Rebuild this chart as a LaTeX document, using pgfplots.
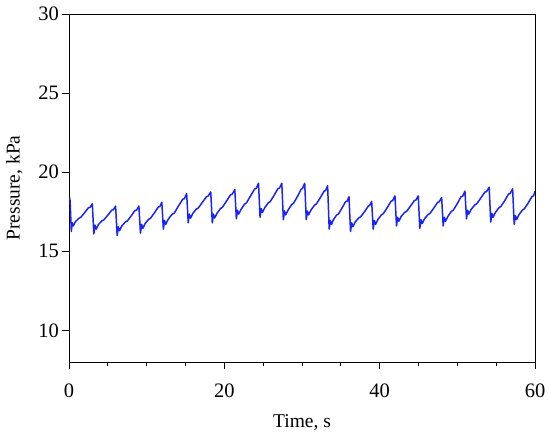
\documentclass[border=0pt]{standalone}
\usepackage{fontspec}
\setmainfont{Liberation Serif}
\usepackage{pgfplots}
\pgfplotsset{compat=1.18}
\definecolor{lineblue}{RGB}{25,35,245}
\begin{document}
\begin{tikzpicture}
\useasboundingbox (-69bp,-75bp) rectangle (481bp,362bp);
\begin{axis}[
  scale only axis,
  width=466bp, height=348bp,
  xmin=0, xmax=60, ymin=8, ymax=30,
  xtick={0,20,40,60},
  minor xtick={5,10,15,25,30,35,45,50,55},
  ytick={10,15,20,25,30},
  xtick pos=bottom, ytick pos=left,
  tick align=outside,
  major tick length=6.5bp, minor tick length=4bp,
  every tick/.style={black, line width=0.8pt},
  axis line style={line width=0.8pt},
  /pgf/number format/assume math mode=true,
  ticklabel style={font=\fontsize{20.5bp}{24bp}\selectfont},
  xticklabel style={yshift=-12bp},
  label style={font=\fontsize{19.5bp}{23bp}\selectfont},
  xlabel={Time, s},
  ylabel={Pressure, kPa},
  xlabel style={yshift=-10bp},
  ylabel style={yshift=9bp},
]
\addplot[lineblue, line width=1.5pt, line join=round] coordinates {
(0.08,18.4)(0.14,18.2)(0.3,16.25)(0.42,16.8)(0.55,16.6)(0.8,16.85)(1.25,17.08)(1.5,17.14)(2.0,17.43)(2.5,17.75)(2.7,17.77)(3.0,18.0)
(3.2,16.1)(3.35,16.65)(3.5,16.4)(3.8,16.7)(4.25,16.93)(4.5,16.99)(5.0,17.28)(5.5,17.6)(5.7,17.62)(6.0,17.85)
(6.2,16.0)(6.35,16.55)(6.5,16.3)(6.8,16.6)(7.25,16.85)(7.5,16.91)(8.0,17.23)(8.5,17.58)(8.7,17.6)(9.0,17.85)
(9.2,16.15)(9.35,16.7)(9.5,16.45)(9.8,16.75)(10.25,17.02)(10.5,17.09)(11.0,17.43)(11.5,17.8)(11.7,17.83)(11.95,18.1)
(12.15,16.4)(12.3,16.95)(12.45,16.7)(12.75,17.0)(13.25,17.33)(13.55,17.41)(14.05,17.83)(14.65,18.29)(14.85,18.32)(15.15,18.65)
(15.35,16.8)(15.5,17.35)(15.65,17.1)(15.95,17.4)(16.4,17.67)(16.65,17.74)(17.15,18.08)(17.7,18.45)(17.9,18.48)(18.25,18.75)
(18.45,16.8)(18.6,17.35)(18.75,17.1)(19.05,17.4)(19.5,17.7)(19.75,17.78)(20.25,18.15)(20.8,18.57)(21.0,18.6)(21.35,18.9)
(21.55,17.05)(21.7,17.6)(21.85,17.35)(22.15,17.65)(22.6,17.98)(22.85,18.06)(23.35,18.48)(23.9,18.94)(24.1,18.97)(24.4,19.3)
(24.6,17.15)(24.75,17.7)(24.9,17.45)(25.2,17.75)(25.65,18.06)(25.9,18.14)(26.4,18.53)(26.9,18.96)(27.1,18.99)(27.4,19.3)
(27.6,17.0)(27.75,17.55)(27.9,17.3)(28.2,17.6)(28.65,17.94)(28.9,18.03)(29.4,18.45)(29.9,18.93)(30.05,18.96)(30.35,19.3)
(30.55,17.0)(30.7,17.55)(30.85,17.3)(31.15,17.6)(31.6,17.91)(31.85,17.99)(32.35,18.38)(32.85,18.81)(33.05,18.84)(33.3,19.15)
(33.5,16.4)(33.65,16.95)(33.8,16.7)(34.05,17.0)(34.45,17.29)(34.7,17.36)(35.15,17.73)(35.6,18.13)(35.8,18.16)(36.05,18.45)
(36.25,16.25)(36.4,16.8)(36.55,16.55)(36.85,16.85)(37.3,17.11)(37.55,17.18)(38.05,17.5)(38.55,17.86)(38.7,17.89)(38.97,18.15)
(39.17,16.4)(39.32,16.95)(39.47,16.7)(39.77,17.0)(40.22,17.3)(40.47,17.38)(40.97,17.75)(41.47,18.17)(41.67,18.2)(41.97,18.5)
(42.17,16.6)(42.32,17.15)(42.47,16.9)(42.77,17.2)(43.22,17.46)(43.47,17.53)(43.97,17.85)(44.47,18.21)(44.67,18.24)(44.97,18.5)
(45.17,16.45)(45.32,17.0)(45.47,16.75)(45.77,17.05)(46.22,17.32)(46.47,17.39)(46.97,17.73)(47.47,18.1)(47.67,18.13)(47.98,18.4)
(48.18,16.6)(48.33,17.15)(48.48,16.9)(48.78,17.2)(49.23,17.52)(49.48,17.6)(49.98,18.0)(50.48,18.45)(50.68,18.48)(50.98,18.8)
(51.18,17.05)(51.33,17.6)(51.48,17.35)(51.78,17.65)(52.25,17.93)(52.5,18.0)(53.0,18.35)(53.55,18.74)(53.75,18.77)(54.1,19.05)
(54.3,16.85)(54.45,17.4)(54.6,17.15)(54.9,17.45)(55.35,17.75)(55.6,17.83)(56.1,18.2)(56.6,18.62)(56.8,18.65)(57.12,18.95)
(57.32,16.7)(57.47,17.25)(57.62,17.0)(57.92,17.3)(58.37,17.6)(58.62,17.68)(59.12,18.05)(59.62,18.47)(59.82,18.5)(60,18.8)
};
\end{axis}
\end{tikzpicture}
\end{document}
